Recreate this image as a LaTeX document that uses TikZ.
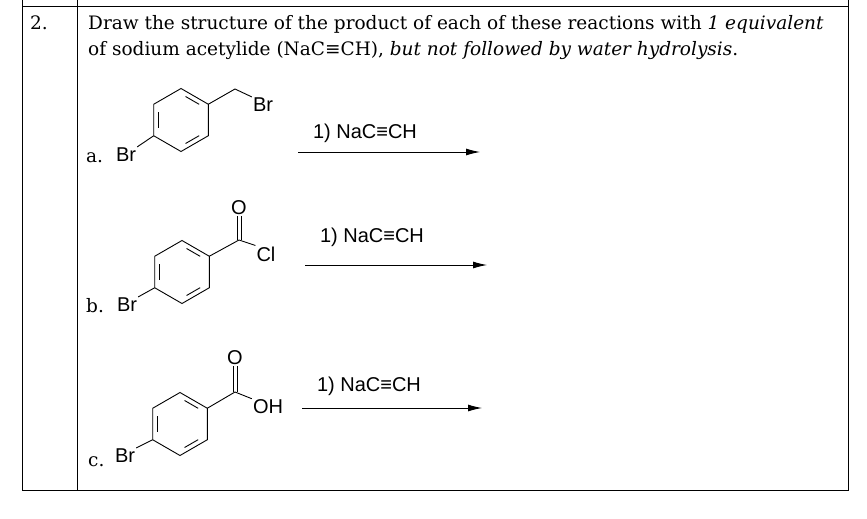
\documentclass[tikz,border=0pt]{standalone}
\usepackage{fontspec}
\setmainfont{DejaVu Serif}
\newfontfamily\chem{Liberation Sans}
\usetikzlibrary{arrows.meta,calc}
\tikzset{bond/.style={line width=0.9pt},
lab/.style={font=\chem\fontsize{20}{20}\selectfont, inner sep=1pt},
txt/.style={font=\fontsize{18.5}{22}\selectfont, inner sep=0pt, anchor=base west},
rxn/.style={-{Latex[length=14pt,width=7pt]}, line width=0.9pt}}
\begin{document}
\begin{tikzpicture}[x=1pt,y=-1pt]
\useasboundingbox (0,0) rectangle (867,519);
\draw[line width=0.8pt] (22,0) -- (22,490) -- (848,490) -- (848,0);
\draw[line width=0.8pt] (77,0) -- (77,490);
\draw[line width=0.8pt] (22,6) -- (848,6);
\node[txt] (num) at (30,30) {2.};
\node[txt] (l1) at (88,30) {Draw the structure of the product of each of these reactions with \textit{1 equivalent}};
\node[txt] (l2) at (88,56) {of sodium acetylide (NaC≡CH), \textit{but not followed by water hydrolysis}.};
\foreach \n/\cx/\cy in {a/181/120,b/182/272,c/180/424}{
  \coordinate (\n1) at (\cx,\cy-31.5);
  \coordinate (\n2) at (\cx+27.3,\cy-15.75);
  \coordinate (\n3) at (\cx+27.3,\cy+15.75);
  \coordinate (\n4) at (\cx,\cy+31.5);
  \coordinate (\n5) at (\cx-27.3,\cy+15.75);
  \coordinate (\n6) at (\cx-27.3,\cy-15.75);
  \coordinate (\n0) at (\cx,\cy);
 \draw[bond] (\n1) -- (\n2) -- (\n3) -- (\n4) -- (\n5) -- (\n6) -- cycle;
 \draw[bond] ($(\n1)!0.2!(\n2)!0.17!(\n0)$) -- ($(\n2)!0.2!(\n1)!0.17!(\n0)$);
 \draw[bond] ($(\n3)!0.2!(\n4)!0.17!(\n0)$) -- ($(\n4)!0.2!(\n3)!0.17!(\n0)$);
 \draw[bond] ($(\n5)!0.2!(\n6)!0.17!(\n0)$) -- ($(\n6)!0.2!(\n5)!0.17!(\n0)$);
}
% a
\coordinate (ach2) at (235,89);
\node[lab] (abr) at (263,105) {Br};
\node[lab] (abr2) at (126,155) {Br};
\node[txt] (alab) at (86,162) {a.};
\draw[bond] (a2) -- (ach2) -- (abr.north west);
\draw[bond] (a5) -- (abr2.north east);
% b
\coordinate (bc) at (239,240);
\node[lab] (bo) at (239,208) {O};
\node[lab] (bcl) at (266,254) {Cl};
\node[lab] (bbr) at (127,305) {Br};
\node[txt] (blab) at (86,312) {b.};
\draw[bond] (b2) -- (bc) -- (bcl.north west);
\draw[bond] ([xshift=-2pt]bc) -- ([xshift=-2pt]bo.south);
\draw[bond] ([xshift=2pt]bc) -- ([xshift=2pt]bo.south);
\draw[bond] (b5) -- (bbr.north east);
% c
\coordinate (cc) at (235,392);
\node[lab] (co) at (235,358) {O};
\node[lab] (coh) at (268,407) {OH};
\node[lab] (cbr) at (125,456) {Br};
\node[txt] (clab) at (88,466) {c.};
\draw[bond] (c2) -- (cc) -- (coh.north west);
\draw[bond] ([xshift=-2pt]cc) -- ([xshift=-2pt]co.south);
\draw[bond] ([xshift=2pt]cc) -- ([xshift=2pt]co.south);
\draw[bond] (c5) -- (cbr.north east);
% arrows
\coordinate (as) at (298,152); \coordinate (ae) at (480,152);
\coordinate (bs) at (305,265); \coordinate (be) at (487,265);
\coordinate (cs) at (302,408); \coordinate (ce) at (482,408);
\draw[rxn] (as) -- (ae);
\draw[rxn] (bs) -- (be);
\draw[rxn] (cs) -- (ce);
\node[lab] (ar) at (365,133) {1) NaC≡CH};
\node[lab] (br) at (372,237) {1) NaC≡CH};
\node[lab] (cr) at (369,386) {1) NaC≡CH};
\end{tikzpicture}
\end{document}
